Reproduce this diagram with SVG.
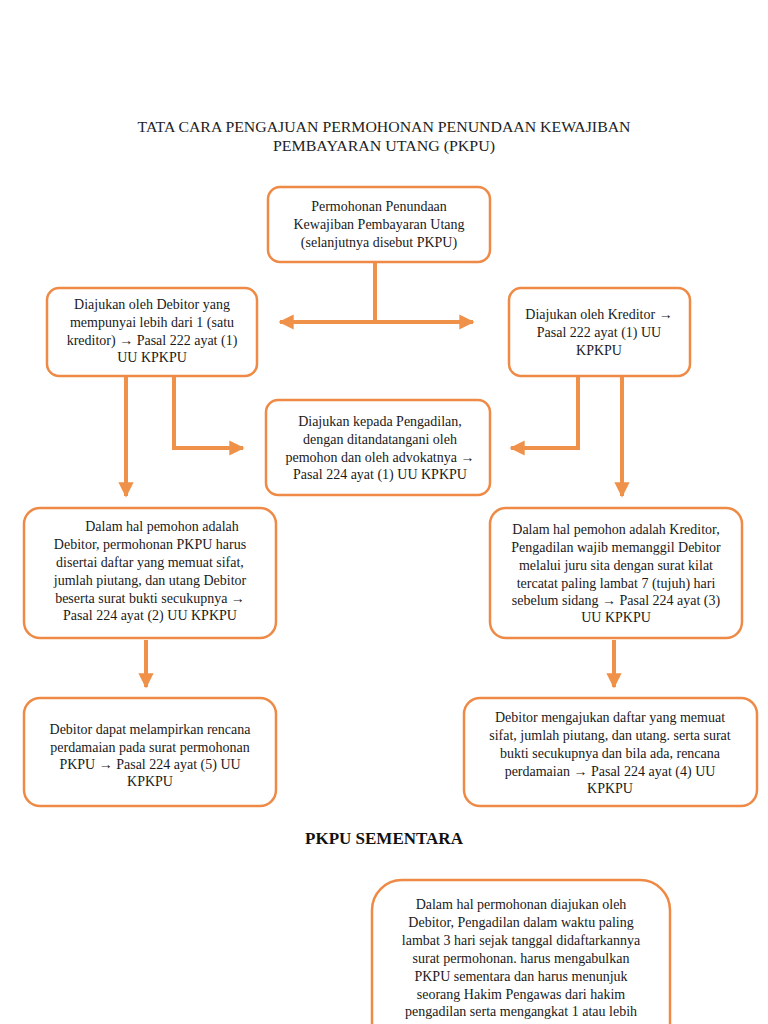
<svg xmlns="http://www.w3.org/2000/svg" width="768" height="1024" viewBox="0 0 768 1024">
<style>
.box{fill:#fff;stroke:#EE8A45;stroke-width:2.5}
.t{font-family:"Liberation Serif","DejaVu Serif",serif;font-size:14px;fill:#1a1a1a;text-anchor:middle}
.title{font-family:"Liberation Serif","DejaVu Serif",serif;font-size:14px;fill:#222;text-anchor:middle}
.h{font-family:"Liberation Serif","DejaVu Serif",serif;font-size:17px;font-weight:bold;fill:#111;text-anchor:middle}
.c{fill:none;stroke:#F0914A;stroke-width:4}
</style>
<defs>
<marker id="ah" viewBox="0 0 10 10" refX="9" refY="5" markerWidth="3.8" markerHeight="3.8" orient="auto-start-reverse" markerUnits="strokeWidth">
<path d="M0,0 L10,5 L0,10 z" fill="#F0914A"/>
</marker>
</defs>
<rect width="768" height="1024" fill="#fff"/>
<text class="title" x="384" y="132" textLength="493" lengthAdjust="spacingAndGlyphs">TATA CARA PENGAJUAN PERMOHONAN PENUNDAAN KEWAJIBAN</text>
<text class="title" x="384" y="151" textLength="222" lengthAdjust="spacingAndGlyphs">PEMBAYARAN UTANG (PKPU)</text>

<g id="connectors">
<line class="c" x1="375" y1="262" x2="375" y2="322"/>
<line class="c" x1="280" y1="322" x2="473" y2="322" marker-start="url(#ah)" marker-end="url(#ah)"/>
<line class="c" x1="126" y1="377" x2="126" y2="496" marker-end="url(#ah)"/>
<polyline class="c" points="174,377 174,448 243,448" marker-end="url(#ah)"/>
<polyline class="c" points="578,377 578,448 511,448" marker-end="url(#ah)"/>
<line class="c" x1="622" y1="377" x2="622" y2="496" marker-end="url(#ah)"/>
<line class="c" x1="146" y1="640" x2="146" y2="687" marker-end="url(#ah)"/>
<line class="c" x1="614" y1="640" x2="614" y2="687" marker-end="url(#ah)"/>
</g>

<g id="n1">
<rect class="box" x="268" y="187" width="222" height="75" rx="12"/>
<text class="t" x="379" y="211">Permohonan Penundaan</text>
<text class="t" x="379" y="229">Kewajiban Pembayaran Utang</text>
<text class="t" x="379" y="247">(selanjutnya disebut PKPU)</text>
</g>
<g id="n2">
<rect class="box" x="47" y="288" width="210" height="88" rx="12"/>
<text class="t" x="152" y="309">Diajukan oleh Debitor yang</text>
<text class="t" x="152" y="327">mempunyai lebih dari 1 (satu</text>
<text class="t" x="152" y="345">kreditor) → Pasal 222 ayat (1)</text>
<text class="t" x="152" y="362">UU KPKPU</text>
</g>
<g id="n3">
<rect class="box" x="509" y="288" width="181" height="88" rx="12"/>
<text class="t" x="599" y="319">Diajukan oleh Kreditor →</text>
<text class="t" x="599" y="337">Pasal 222 ayat (1) UU</text>
<text class="t" x="599" y="355">KPKPU</text>
</g>
<g id="n4">
<rect class="box" x="266" y="400" width="224" height="95" rx="12"/>
<text class="t" x="380" y="426">Diajukan kepada Pengadilan,</text>
<text class="t" x="380" y="444">dengan ditandatangani oleh</text>
<text class="t" x="380" y="462">pemohon dan oleh advokatnya →</text>
<text class="t" x="380" y="479">Pasal 224 ayat (1) UU KPKPU</text>
</g>
<g id="n5">
<rect class="box" x="24" y="508" width="252" height="130" rx="16"/>
<text class="t" x="162" y="531">Dalam hal pemohon adalah</text>
<text class="t" x="150" y="549">Debitor, permohonan PKPU harus</text>
<text class="t" x="150" y="567">disertai daftar yang memuat sifat,</text>
<text class="t" x="150" y="585">jumlah piutang, dan utang Debitor</text>
<text class="t" x="150" y="603">beserta surat bukti secukupnya →</text>
<text class="t" x="150" y="620">Pasal 224 ayat (2) UU KPKPU</text>
</g>
<g id="n6">
<rect class="box" x="490" y="508" width="252" height="130" rx="16"/>
<text class="t" x="616" y="534">Dalam hal pemohon adalah Kreditor,</text>
<text class="t" x="616" y="552">Pengadilan wajib memanggil Debitor</text>
<text class="t" x="616" y="570">melalui juru sita dengan surat kilat</text>
<text class="t" x="616" y="588">tercatat paling lambat 7 (tujuh) hari</text>
<text class="t" x="616" y="605">sebelum sidang → Pasal 224 ayat (3)</text>
<text class="t" x="616" y="622">UU KPKPU</text>
</g>
<g id="n7">
<rect class="box" x="24" y="698" width="252" height="108" rx="16"/>
<text class="t" x="150" y="734">Debitor dapat melampirkan rencana</text>
<text class="t" x="150" y="752">perdamaian pada surat permohonan</text>
<text class="t" x="150" y="769">PKPU  → Pasal 224 ayat (5) UU</text>
<text class="t" x="150" y="786">KPKPU</text>
</g>
<g id="n8">
<rect class="box" x="464" y="698" width="293" height="108" rx="16"/>
<text class="t" x="610" y="722">Debitor mengajukan daftar yang memuat</text>
<text class="t" x="610" y="740">sifat, jumlah piutang, dan utang. serta surat</text>
<text class="t" x="610" y="758">bukti secukupnya dan bila ada, rencana</text>
<text class="t" x="610" y="776">perdamaian → Pasal 224 ayat (4) UU</text>
<text class="t" x="610" y="793">KPKPU</text>
</g>
<text class="h" x="384" y="844">PKPU SEMENTARA</text>
<g id="n9">
<rect class="box" x="372" y="880" width="298" height="180" rx="30"/>
<text class="t" x="521" y="909">Dalam hal permohonan diajukan oleh</text>
<text class="t" x="521" y="927">Debitor, Pengadilan dalam waktu paling</text>
<text class="t" x="521" y="945">lambat 3 hari sejak tanggal didaftarkannya</text>
<text class="t" x="521" y="963">surat permohonan. harus mengabulkan</text>
<text class="t" x="521" y="981">PKPU sementara dan harus menunjuk</text>
<text class="t" x="521" y="999">seorang Hakim Pengawas dari hakim</text>
<text class="t" x="521" y="1016">pengadilan serta mengangkat 1 atau lebih</text>
</g>
</svg>
